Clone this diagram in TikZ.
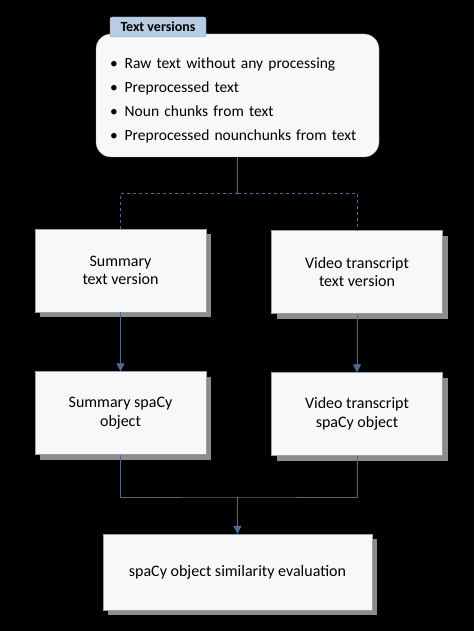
\documentclass[tikz,border=0pt]{standalone}
\usepackage{fontspec}
\setmainfont{Carlito}
\usepackage{tikz}
\usetikzlibrary{arrows.meta,shadows,positioning}

\definecolor{linkblue}{RGB}{79,106,150}
\definecolor{boxfill}{RGB}{248,248,248}
\definecolor{boxline}{RGB}{150,160,175}
\definecolor{tabfill}{RGB}{184,204,228}

\tikzset{
  stage/.style={draw=boxline, fill=boxfill, minimum width=171pt,
    minimum height=83pt, align=center, font=\fontsize{16}{18.5}\selectfont,
    drop shadow={shadow xshift=5pt, shadow yshift=-5pt, fill=gray!90, opacity=1}},
  link/.style={draw=linkblue, line width=0.8pt},
  flow/.style={link, -{Triangle[width=8pt,length=8pt]}}
}

\begin{document}
\begin{tikzpicture}[x=1pt,y=-1pt]
\fill[black] (0,0) rectangle (474,631);
\useasboundingbox (0,0) rectangle (474,631);

% text versions
\node[draw=boxline, fill=boxfill, rounded corners=15pt, minimum width=283pt,
  minimum height=123pt, text width=255pt, inner xsep=14pt, align=left,
  font=\fontsize{15.5}{24}\selectfont] (versions) at (237.5,95.5)
  {\rule{0pt}{20pt}\textbullet\hspace{7pt}Raw text without any processing\\
   \textbullet\hspace{7pt}Preprocessed text\\
   \textbullet\hspace{7pt}Noun chunks from text\\
   \textbullet\hspace{7pt}Preprocessed nounchunks from text};
\node[draw=boxline, fill=tabfill, rounded corners=2pt, minimum width=96pt,
  minimum height=20pt, inner sep=0pt, font=\fontsize{14}{16}\selectfont\bfseries]
  (tab) at (158,27) {Text versions};

\node[stage] (sumtext) at (120.5,270.5) {Summary\\text version};
\node[stage] (vidtext) at (357,272) {Video transcript\\text version};
\node[stage] (sumobj) at (120.5,413) {Summary spaCy\\object};
\node[stage] (vidobj) at (357,414) {Video transcript\\spaCy object};
\node[stage, minimum width=269pt, minimum height=76pt] (eval) at (237.5,572)
  {spaCy object similarity evaluation};

\draw[link] (versions.south) -- ++(0,36) coordinate (split);
\draw[link, dashed] (split) -| (sumtext.north);
\draw[link, dashed] (split) -| (vidtext.north);

\draw[flow] (sumtext) -- (sumobj);
\draw[flow] (vidtext.south) -- (vidobj.north);

\coordinate (join) at (237.5,497);
\draw[link] (sumobj.south) |- (join) -| (vidobj.south);
\draw[flow] (join) -- (eval);
\end{tikzpicture}
\end{document}
